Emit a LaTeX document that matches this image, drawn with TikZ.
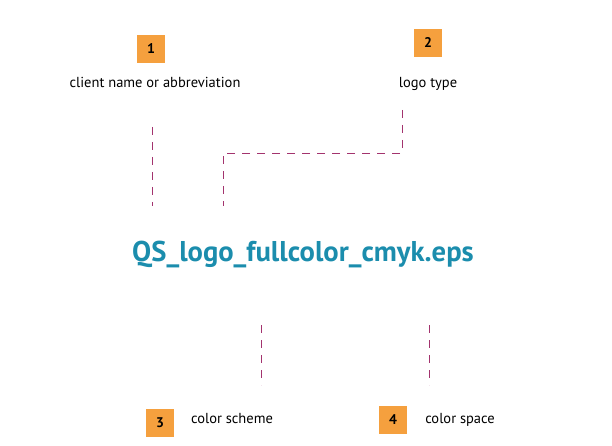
\documentclass[tikz,border=0pt]{standalone}
\usepackage{fontspec}
\setmainfont{PT Sans}
\usetikzlibrary{positioning}
\definecolor{qsorange}{HTML}{F5A03E}
\definecolor{qsteal}{HTML}{1B8DAD}
\definecolor{qsline}{HTML}{A3336E}
\tikzset{numbox/.style={fill=qsorange, minimum width=28pt, minimum height=28pt, inner sep=0pt, font=\bfseries\fontsize{14}{16}\selectfont},
%labels sit on their baseline
lbl/.style={anchor=base, inner sep=0pt, font=\fontsize{14.5}{17}\selectfont},
guide/.style={draw=qsline, line width=0.8pt, dash pattern=on 8pt off 7pt}}

\begin{document}
\begin{tikzpicture}[x=1pt,y=-1pt]

  \useasboundingbox (0,0) rectangle (612,446);

  \node[numbox] at (151,49) (n1) {1};
  \node[numbox] at (428,43) (n2) {2};
  \node[numbox] at (160,423) (n3) {3};
  \node[numbox] at (393,420) (n4) {4};

  \node[lbl] at (155,88) (client) {client name or abbreviation};
  \node[lbl] at (428,88) (type) {logo type};
  \node[lbl] at (232,423) (scheme) {color scheme};
  \node[lbl] at (460,423) (space) {color space};

  \node[anchor=base, inner sep=0pt, text=qsteal, font=\bfseries\fontsize{28.6}{32}\selectfont] at (303,261) (file) {QS\_logo\_fullcolor\_cmyk.eps};

  \coordinate (a1) at (152,127);
  \coordinate (b1) at (152,206);
  \coordinate (a2) at (402,110);
  \coordinate (k2) at (223,153);
  \coordinate (b2) at (223,206);
  \coordinate (a3) at (261,325);
  \coordinate (b3) at (261,385);
  \coordinate (a4) at (429,325);
  \coordinate (b4) at (429,385);

  \draw[guide] (a1) -- (b1);
  \draw[guide] (a2) |- (k2) -- (b2);
  \draw[guide] (a3) -- (b3);
  \draw[guide] (a4) -- (b4);

\end{tikzpicture}
\end{document}
